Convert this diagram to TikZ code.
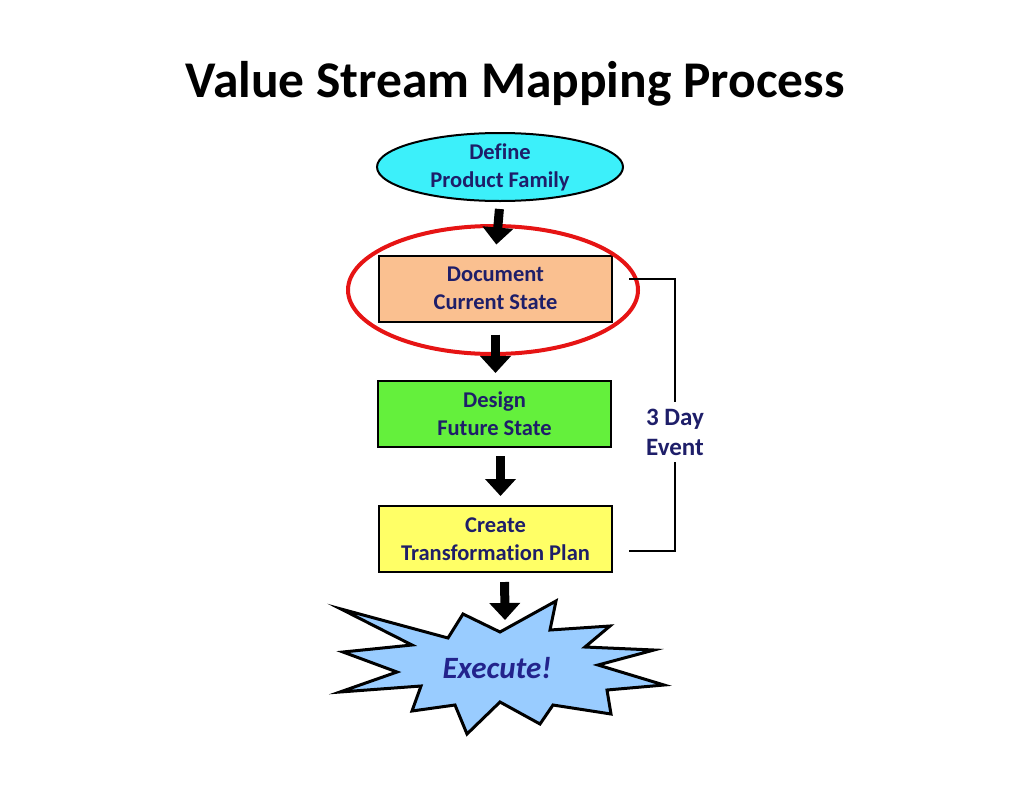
\documentclass[tikz,border=0pt]{standalone}
\usepackage{fontspec}
\setmainfont{Carlito}[Ligatures=NoCommon]
\usetikzlibrary{shapes.geometric,arrows.meta}
\definecolor{navy}{RGB}{30,30,105}
\definecolor{exblue}{RGB}{35,35,140}
\definecolor{cyanfill}{RGB}{60,240,250}
\definecolor{peach}{RGB}{250,192,144}
\definecolor{lime}{RGB}{100,240,60}
\definecolor{lyellow}{RGB}{255,255,102}
\definecolor{burst}{RGB}{153,204,255}
\definecolor{redring}{RGB}{230,20,20}
\begin{document}
\begin{tikzpicture}[x=1pt,y=-1pt,
  stagebox/.style={draw=black,line width=2pt,minimum width=233pt,minimum height=66pt,
     align=center,font=\fontsize{22.5}{28}\selectfont\bfseries,text=navy,inner sep=0pt},
  blockarrow/.style={line width=9pt,-{Triangle[width=30pt,length=17pt]}}]
\useasboundingbox (0,0) rectangle (1024,792);
\node[font=\fontsize{51.5}{60}\selectfont\bfseries] (title) at (515,84) {Value Stream Mapping Process};
\node[ellipse,draw=black,line width=2pt,fill=cyanfill,minimum width=246pt,minimum height=68pt,
  align=center,font=\fontsize{22.5}{28}\selectfont\bfseries,text=navy,inner sep=0pt] (define) at (500,167) {Define\\Product Family};
\node[stagebox,fill=peach] (doc) at (495.5,288.5) {Document\\Current State};
\node[stagebox,fill=lime] (design) at (494.5,414) {Design\\Future State};
\node[stagebox,fill=lyellow] (create) at (495.5,539) {Create\\Transformation Plan};
\draw[redring,line width=4pt] (493,290) ellipse [x radius=145pt,y radius=64pt];
% starburst
\path[draw=black,line width=3pt,line join=miter,fill=burst]
 (500,632) -- (556,601) -- (550,630) -- (610,626) -- (585,647) -- (654,650) -- (598,665)
 -- (664,685) -- (607,690) -- (611,714) -- (553,705) -- (540,724) -- (500,702) -- (467,734)
 -- (455,705) -- (412,711) -- (421,686) -- (340,692) -- (397,672) -- (343,652) -- (412,645)
 -- (341,609) -- (448,638) -- (463,614) -- cycle;
\node[font=\fontsize{31}{34}\selectfont\bfseries\itshape,text=exblue] (exec) at (497,668) {Execute!};
\coordinate (burstTop) at (505,620);
% arrows
\draw[blockarrow,shorten <=7pt,shorten >=10pt] (define.south) -- (doc.north);
\draw[blockarrow,shorten <=12pt,shorten >=7pt] (doc.south) -- (design.north -| doc.south);
\draw[blockarrow,shorten <=8pt,shorten >=9pt] ([xshift=6pt]design.south) -- ([xshift=6pt]design.south |- create.north);
\draw[blockarrow,shorten <=9pt] ([xshift=9pt]create.south) -- (burstTop);
% bracket
\node[font=\fontsize{25}{30}\selectfont\bfseries,text=navy,align=center,inner xsep=0pt,inner ysep=7pt] (ev) at (675,432) {3 Day\\Event};
\draw[black,line width=2pt] ([xshift=16pt,yshift=9.5pt]doc.east) -| (ev.north);
\draw[black,line width=2pt] (ev.south) |- ([xshift=16pt,yshift=-12pt]create.east);
\end{tikzpicture}
\end{document}
